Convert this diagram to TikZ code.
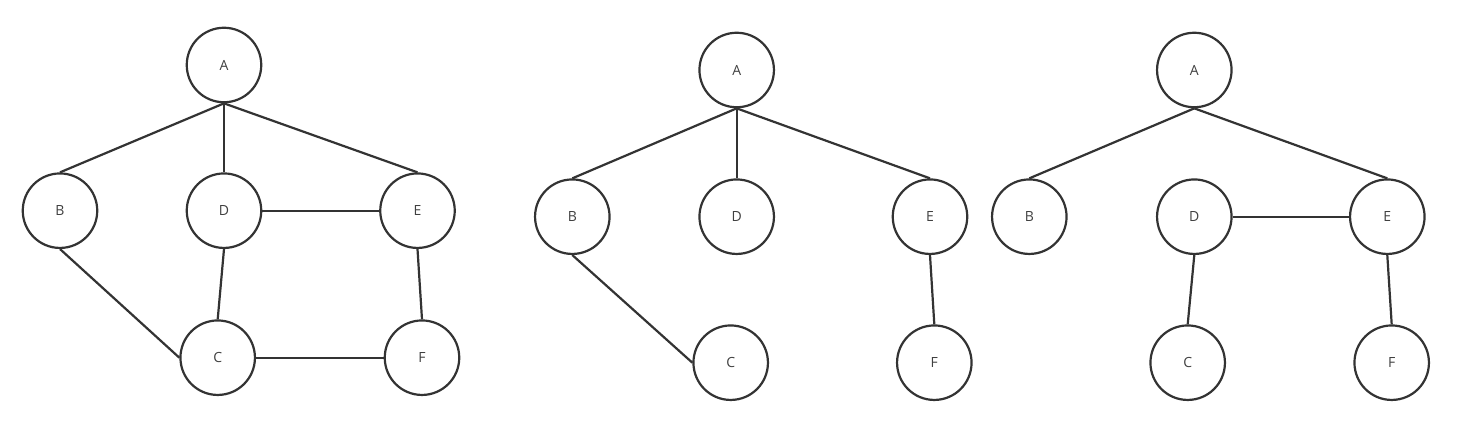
\documentclass[tikz,border=0pt]{standalone}
\usepackage{fontspec}
\setmainfont{Open Sans}
\definecolor{edgecol}{RGB}{51,51,51}
\definecolor{txtcol}{RGB}{64,64,64}
\begin{document}
\begin{tikzpicture}[x=1pt,y=-1pt,
  vert/.style={circle,draw=edgecol,line width=2.2pt,minimum size=74.5pt,inner sep=0pt,
    text=txtcol,font=\fontsize{14}{16}\selectfont},
  edge/.style={draw=edgecol,line width=2.2pt}]
\useasboundingbox[fill=white] (0,0) rectangle (1459,441);
% graph 1
\node[vert] (a1) at (224,65) {A};
\node[vert] (b1) at (60,210.7) {B};
\node[vert] (d1) at (224,210.7) {D};
\node[vert] (e1) at (417.5,210.7) {E};
\node[vert] (c1) at (217.7,357.7) {C};
\node[vert] (f1) at (422,357.7) {F};
\draw[edge] (a1.south) -- (b1.north);
\draw[edge] (a1.south) -- (d1.north);
\draw[edge] (a1.south) -- (e1.north);
\draw[edge] (d1.east) -- (e1.west);
\draw[edge] (d1.south) -- (c1.north);
\draw[edge] (b1.south) -- (c1.west);
\draw[edge] (e1.south) -- (f1.north);
\draw[edge] (c1.east) -- (f1.west);
% graph 2
\node[vert] (a2) at (736.7,70) {A};
\node[vert] (b2) at (572.3,216.7) {B};
\node[vert] (d2) at (736.7,216.7) {D};
\node[vert] (e2) at (930,216.7) {E};
\node[vert] (c2) at (730.7,362.7) {C};
\node[vert] (f2) at (934.3,362.7) {F};
\draw[edge] (a2.south) -- (b2.north);
\draw[edge] (a2.south) -- (d2.north);
\draw[edge] (a2.south) -- (e2.north);
\draw[edge] (b2.south) -- (c2.west);
\draw[edge] (e2.south) -- (f2.north);
% graph 3
\node[vert] (a3) at (1194.3,70) {A};
\node[vert] (b3) at (1029.3,216.7) {B};
\node[vert] (d3) at (1194.3,216.7) {D};
\node[vert] (e3) at (1387.3,216.7) {E};
\node[vert] (c3) at (1187.7,362.7) {C};
\node[vert] (f3) at (1391.7,362.7) {F};
\draw[edge] (a3.south) -- (b3.north);
\draw[edge] (a3.south) -- (e3.north);
\draw[edge] (d3.east) -- (e3.west);
\draw[edge] (d3.south) -- (c3.north);
\draw[edge] (e3.south) -- (f3.north);
\end{tikzpicture}
\end{document}
